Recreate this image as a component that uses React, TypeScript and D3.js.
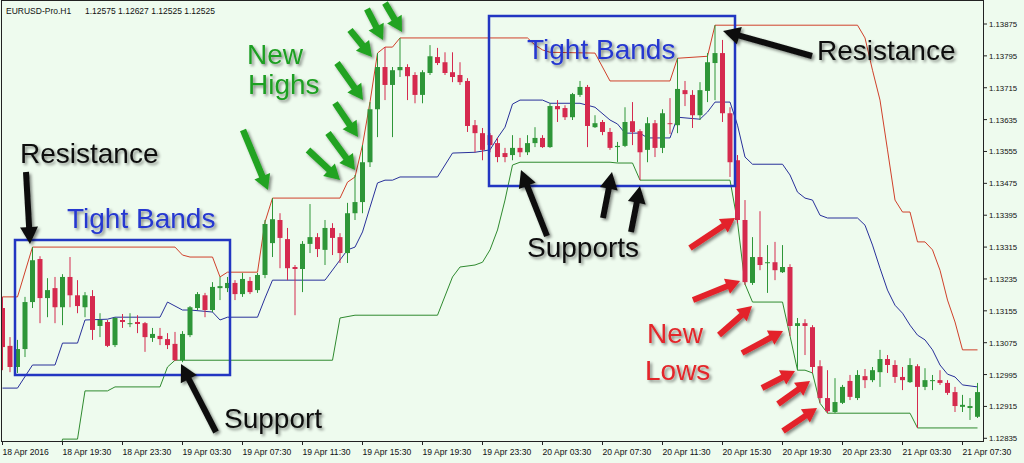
import React from 'react';
import * as d3 from 'd3';

// ---------- DATA ----------
// candles: [open, high, low, close]
const ohlc: [number, number, number, number][] = [
  [1.13162, 1.13190, 1.13006, 1.13064],
  [1.13067, 1.13089, 1.13001, 1.13014],
  [1.13014, 1.13082, 1.12999, 1.13059],
  [1.13059, 1.13190, 1.13039, 1.13177],
  [1.13177, 1.13315, 1.13162, 1.13282],
  [1.13285, 1.13292, 1.13124, 1.13187],
  [1.13187, 1.13237, 1.13139, 1.13207],
  [1.13212, 1.13240, 1.13124, 1.13164],
  [1.13164, 1.13247, 1.13119, 1.13240],
  [1.13240, 1.13290, 1.13164, 1.13194],
  [1.13194, 1.13232, 1.13149, 1.13167],
  [1.13164, 1.13202, 1.13139, 1.13194],
  [1.13192, 1.13207, 1.13082, 1.13107],
  [1.13117, 1.13149, 1.13089, 1.13132],
  [1.13127, 1.13132, 1.13064, 1.13067],
  [1.13069, 1.13139, 1.13064, 1.13137],
  [1.13132, 1.13147, 1.13112, 1.13127],
  [1.13122, 1.13149, 1.13114, 1.13124],
  [1.13127, 1.13144, 1.13099, 1.13122],
  [1.13124, 1.13127, 1.13052, 1.13089],
  [1.13087, 1.13112, 1.13077, 1.13097],
  [1.13092, 1.13112, 1.13069, 1.13084],
  [1.13084, 1.13099, 1.13059, 1.13069],
  [1.13072, 1.13102, 1.13029, 1.13031],
  [1.13031, 1.13104, 1.13026, 1.13097],
  [1.13094, 1.13167, 1.13089, 1.13164],
  [1.13162, 1.13202, 1.13157, 1.13197],
  [1.13194, 1.13200, 1.13139, 1.13157],
  [1.13157, 1.13227, 1.13152, 1.13215],
  [1.13212, 1.13240, 1.13182, 1.13217],
  [1.13212, 1.13240, 1.13202, 1.13225],
  [1.13225, 1.13232, 1.13182, 1.13197],
  [1.13197, 1.13250, 1.13190, 1.13235],
  [1.13230, 1.13240, 1.13197, 1.13202],
  [1.13207, 1.13250, 1.13200, 1.13245],
  [1.13245, 1.13383, 1.13237, 1.13373],
  [1.13325, 1.13438, 1.13290, 1.13385],
  [1.13383, 1.13400, 1.13262, 1.13338],
  [1.13335, 1.13363, 1.13232, 1.13262],
  [1.13265, 1.13270, 1.13144, 1.13260],
  [1.13260, 1.13330, 1.13202, 1.13323],
  [1.13323, 1.13423, 1.13300, 1.13340],
  [1.13340, 1.13350, 1.13290, 1.13310],
  [1.13308, 1.13383, 1.13270, 1.13363],
  [1.13363, 1.13375, 1.13295, 1.13338],
  [1.13340, 1.13350, 1.13275, 1.13300],
  [1.13300, 1.13426, 1.13275, 1.13400],
  [1.13400, 1.13496, 1.13383, 1.13428],
  [1.13428, 1.13571, 1.13400, 1.13528],
  [1.13528, 1.13679, 1.13516, 1.13661],
  [1.13661, 1.13802, 1.13591, 1.13767],
  [1.13767, 1.13817, 1.13684, 1.13722],
  [1.13722, 1.13767, 1.13591, 1.13759],
  [1.13759, 1.13840, 1.13742, 1.13767],
  [1.13767, 1.13774, 1.13684, 1.13744],
  [1.13747, 1.13754, 1.13676, 1.13697],
  [1.13697, 1.13759, 1.13676, 1.13754],
  [1.13752, 1.13822, 1.13747, 1.13794],
  [1.13792, 1.13815, 1.13772, 1.13777],
  [1.13779, 1.13804, 1.13747, 1.13752],
  [1.13754, 1.13804, 1.13729, 1.13742],
  [1.13747, 1.13779, 1.13722, 1.13729],
  [1.13732, 1.13739, 1.13604, 1.13619],
  [1.13621, 1.13634, 1.13553, 1.13601],
  [1.13601, 1.13614, 1.13533, 1.13559],
  [1.13596, 1.13601, 1.13553, 1.13571],
  [1.13576, 1.13589, 1.13528, 1.13541],
  [1.13551, 1.13564, 1.13528, 1.13541],
  [1.13546, 1.13596, 1.13533, 1.13564],
  [1.13564, 1.13589, 1.13541, 1.13553],
  [1.13553, 1.13596, 1.13546, 1.13576],
  [1.13576, 1.13616, 1.13566, 1.13589],
  [1.13589, 1.13596, 1.13564, 1.13566],
  [1.13566, 1.13676, 1.13564, 1.13669],
  [1.13669, 1.13684, 1.13629, 1.13661],
  [1.13664, 1.13671, 1.13634, 1.13641],
  [1.13641, 1.13702, 1.13634, 1.13699],
  [1.13697, 1.13732, 1.13692, 1.13717],
  [1.13717, 1.13722, 1.13566, 1.13619],
  [1.13616, 1.13646, 1.13614, 1.13626],
  [1.13629, 1.13634, 1.13596, 1.13604],
  [1.13604, 1.13614, 1.13559, 1.13564],
  [1.13566, 1.13579, 1.13528, 1.13569],
  [1.13569, 1.13666, 1.13566, 1.13629],
  [1.13631, 1.13679, 1.13571, 1.13604],
  [1.13606, 1.13611, 1.13483, 1.13553],
  [1.13559, 1.13641, 1.13528, 1.13626],
  [1.13626, 1.13634, 1.13541, 1.13564],
  [1.13564, 1.13661, 1.13551, 1.13651],
  [1.13626, 1.13689, 1.13599, 1.13624],
  [1.13621, 1.13789, 1.13601, 1.13712],
  [1.13709, 1.13732, 1.13669, 1.13699],
  [1.13697, 1.13709, 1.13614, 1.13646],
  [1.13646, 1.13729, 1.13634, 1.13709],
  [1.13707, 1.13802, 1.13679, 1.13779],
  [1.13777, 1.13872, 1.13684, 1.13802],
  [1.13802, 1.13835, 1.13629, 1.13651],
  [1.13651, 1.13666, 1.13491, 1.13528],
  [1.13533, 1.13546, 1.13375, 1.13383],
  [1.13383, 1.13433, 1.13220, 1.13227],
  [1.13225, 1.13340, 1.13220, 1.13290],
  [1.13290, 1.13405, 1.13257, 1.13270],
  [1.13275, 1.13320, 1.13200, 1.13277],
  [1.13277, 1.13328, 1.13232, 1.13257],
  [1.13252, 1.13320, 1.13250, 1.13265],
  [1.13265, 1.13272, 1.13092, 1.13117],
  [1.13117, 1.13137, 1.13006, 1.13124],
  [1.13124, 1.13134, 1.13044, 1.13117],
  [1.13114, 1.13119, 1.12999, 1.13014],
  [1.13016, 1.13031, 1.12924, 1.12936],
  [1.12936, 1.13006, 1.12898, 1.12903],
  [1.12901, 1.12986, 1.12898, 1.12926],
  [1.12924, 1.12969, 1.12921, 1.12964],
  [1.12979, 1.12994, 1.12931, 1.12939],
  [1.12936, 1.13006, 1.12931, 1.12994],
  [1.12991, 1.13009, 1.12961, 1.12981],
  [1.12981, 1.13014, 1.12976, 1.13006],
  [1.13001, 1.13057, 1.12964, 1.13034],
  [1.13034, 1.13044, 1.12999, 1.13019],
  [1.13019, 1.13031, 1.12974, 1.12989],
  [1.12989, 1.13014, 1.12956, 1.12981],
  [1.12976, 1.13036, 1.12974, 1.13019],
  [1.13016, 1.13021, 1.12861, 1.12964],
  [1.12964, 1.13011, 1.12956, 1.12981],
  [1.12979, 1.12994, 1.12956, 1.12981],
  [1.12981, 1.13006, 1.12969, 1.12974],
  [1.12974, 1.12981, 1.12944, 1.12949],
  [1.12951, 1.12964, 1.12901, 1.12916],
  [1.12914, 1.12944, 1.12901, 1.12919],
  [1.12911, 1.12936, 1.12881, 1.12916],
  [1.12889, 1.12974, 1.12886, 1.12951],
];

// channel lines: [bar index, price]
const upperBand: [number, number][] = [
  [0, 1.13190], [2, 1.13190], [4, 1.13315], [23, 1.13315], [24, 1.13295], [25, 1.13290], [28, 1.13290],
  [29, 1.13240], [30, 1.13252], [34, 1.13252], [35, 1.13378], [36, 1.13438], [45, 1.13438], [46, 1.13478],
  [47, 1.13491], [48, 1.13571], [49, 1.13679], [50, 1.13802], [51, 1.13817], [52, 1.13817], [53, 1.13840],
  [70, 1.13840], [71, 1.13822], [72, 1.13810], [73, 1.13804], [79, 1.13802], [80, 1.13767], [81, 1.13732],
  [89, 1.13732], [90, 1.13789], [94, 1.13794], [95, 1.13872], [114, 1.13872], [115, 1.13840], [116, 1.13759],
  [117, 1.13684], [118, 1.13559], [119, 1.13433], [120, 1.13403], [121, 1.13403], [122, 1.13328], [123, 1.13328],
  [124, 1.13308], [125, 1.13257], [126, 1.13182], [127, 1.13127], [128, 1.13057], [130, 1.13057],
];
const middleBand: [number, number][] = [
  [0, 1.12961], [2, 1.12961], [4, 1.13019], [7, 1.13019], [8, 1.13074], [10, 1.13074], [11, 1.13132],
  [14, 1.13134], [15, 1.13139], [21, 1.13139], [22, 1.13177], [24, 1.13157], [25, 1.13157], [28, 1.13152],
  [29, 1.13132], [30, 1.13139], [34, 1.13139], [35, 1.13187], [36, 1.13232], [43, 1.13232], [46, 1.13308],
  [47, 1.13315], [48, 1.13353], [49, 1.13415], [50, 1.13476], [51, 1.13483], [52, 1.13483], [53, 1.13491],
  [58, 1.13491], [60, 1.13551], [63, 1.13553], [65, 1.13559], [66, 1.13589], [67, 1.13616], [68, 1.13674],
  [69, 1.13684], [72, 1.13684], [73, 1.13676], [77, 1.13676], [78, 1.13671], [79, 1.13666], [81, 1.13634],
  [82, 1.13624], [83, 1.13601], [85, 1.13601], [86, 1.13589], [89, 1.13589], [90, 1.13641], [93, 1.13636],
  [94, 1.13654], [95, 1.13679], [97, 1.13679], [98, 1.13621], [99, 1.13541], [100, 1.13523], [104, 1.13523],
  [105, 1.13496], [106, 1.13453], [107, 1.13438], [108, 1.13433], [109, 1.13395], [110, 1.13388], [114, 1.13388],
  [115, 1.13370], [116, 1.13320], [117, 1.13262], [118, 1.13207], [119, 1.13169], [120, 1.13149], [121, 1.13119],
  [122, 1.13094], [123, 1.13082], [124, 1.13057], [125, 1.13019], [126, 1.12996], [127, 1.12989], [128, 1.12969],
  [130, 1.12964],
];
const lowerBand: [number, number][] = [
  [0, 1.12733], [3, 1.12733], [4, 1.12723], [7, 1.12723], [8, 1.12833], [10, 1.12833], [11, 1.12954],
  [14, 1.12954], [15, 1.12964], [21, 1.12964], [22, 1.13014], [23, 1.13031], [44, 1.13031], [45, 1.13137],
  [47, 1.13144], [58, 1.13144], [60, 1.13240], [61, 1.13265], [63, 1.13270], [64, 1.13277], [65, 1.13308],
  [66, 1.13358], [67, 1.13433], [68, 1.13521], [69, 1.13528], [81, 1.13528], [82, 1.13526], [84, 1.13526],
  [85, 1.13483], [97, 1.13483], [98, 1.13378], [99, 1.13222], [100, 1.13177], [104, 1.13177], [105, 1.13092],
  [106, 1.13006], [107, 1.13006], [108, 1.12999], [109, 1.12923], [110, 1.12898], [121, 1.12898], [122, 1.12861],
  [130, 1.12861],
];

const priceTicks = [1.13875, 1.13795, 1.13715, 1.13635, 1.13555, 1.13475, 1.13395, 1.13315, 1.13235, 1.13155, 1.13075, 1.12995, 1.12915, 1.12835];
const timeLabels = [
  '18 Apr 2016', '18 Apr 19:30', '18 Apr 23:30', '19 Apr 03:30', '19 Apr 07:30', '19 Apr 11:30',
  '19 Apr 15:30', '19 Apr 19:30', '19 Apr 23:30', '20 Apr 03:30', '20 Apr 07:30', '20 Apr 11:30',
  '20 Apr 15:30', '20 Apr 19:30', '20 Apr 23:30', '21 Apr 03:30', '21 Apr 07:30',
];
const labelEvery = 8;
const titleSymbol = 'EURUSD-Pro.H1';
const titleValues = '1.12575 1.12627 1.12525 1.12525';

// ---------- LAYOUT / STYLE ----------
const W = 1024, H = 463;
const P = { left: 2, right: 983, top: 1, bottom: 441 };
const BG = '#eefbee';
const BULL = '#2e9638';
const BEAR = '#d52a4e';
const FONT = '"Liberation Sans", Arial, sans-serif';

type Arrow = { from: [number, number]; to: [number, number] };
const blackArrows: Arrow[] = [
  { from: [26, 172], to: [30, 244] },
  { from: [216, 432], to: [181, 364] },
  { from: [547, 236], to: [521, 170] },
  { from: [603, 218], to: [612, 172] },
  { from: [631, 232], to: [640, 186] },
  { from: [812, 56], to: [723, 31] },
];
const greenArrows: Arrow[] = [
  { from: [243, 130], to: [268, 190] },
  { from: [308, 150], to: [340, 180] },
  { from: [328, 133], to: [355, 170] },
  { from: [335, 103], to: [358, 137] },
  { from: [337, 63], to: [363, 100] },
  { from: [350, 30], to: [372, 57] },
  { from: [367, 9], to: [383, 40] },
  { from: [385, 3], to: [402, 32] },
];
const redArrows: Arrow[] = [
  { from: [690, 248], to: [735, 218] },
  { from: [693, 300], to: [740, 281] },
  { from: [719, 335], to: [752, 306] },
  { from: [742, 353], to: [783, 331] },
  { from: [762, 388], to: [795, 371] },
  { from: [778, 404], to: [810, 381] },
  { from: [783, 431], to: [817, 408] },
];
const labels = [
  { text: 'Resistance', x: 20, y: 163, color: '#111' },
  { text: 'Resistance', x: 817, y: 60, color: '#111' },
  { text: 'Tight Bands', x: 67, y: 228, color: '#2638d0' },
  { text: 'Tight Bands', x: 527, y: 59, color: '#2638d0' },
  { text: 'New', x: 247, y: 64, color: '#1f9f22' },
  { text: 'Highs', x: 248, y: 94, color: '#1f9f22' },
  { text: 'New', x: 647, y: 343, color: '#e3262b' },
  { text: 'Lows', x: 645, y: 380, color: '#e3262b' },
  { text: 'Support', x: 224, y: 428, color: '#111' },
  { text: 'Supports', x: 527, y: 257, color: '#111' },
];
const boxes = [
  { x0: 15, y0: 240, x1: 230, y1: 375 },
  { x0: 489, y0: 16, x1: 735, y1: 186 },
];

function arrowPath(a: Arrow, s: number, h: number, L: number) {
  const [x1, y1] = a.from, [x2, y2] = a.to;
  const dx = x2 - x1, dy = y2 - y1, len = Math.hypot(dx, dy);
  const ux = dx / len, uy = dy / len, px = -uy, py = ux;
  const bx = x2 - ux * L, by = y2 - uy * L;
  const pts = [
    [x1 + px * s, y1 + py * s], [bx + px * s, by + py * s], [bx + px * h, by + py * h], [x2, y2],
    [bx - px * h, by - py * h], [bx - px * s, by - py * s], [x1 - px * s, y1 - py * s],
  ];
  return 'M' + pts.map(p => p[0].toFixed(1) + ',' + p[1].toFixed(1)).join('L') + 'Z';
}

export default function App() {
  const x = d3.scaleLinear().domain([0, 128]).range([2.5, 962.5]);
  const y = d3.scaleLinear().domain([1.12835, 1.13875]).range([438.3, 24]);
  const line = d3.line<[number, number]>().x(d => x(d[0])).y(d => y(d[1]));
  const bw = 5;

  return (
    <svg width={W} height={H} style={{ position: 'absolute', left: 0, top: 0, display: 'block' }} fontFamily={FONT}>
      <defs>
        <clipPath id="plot"><rect x={P.left} y={P.top} width={P.right - P.left} height={P.bottom - P.top} /></clipPath>
        <filter id="sh" x="-30%" y="-30%" width="160%" height="160%">
          <feDropShadow dx="2" dy="2" stdDeviation="1.6" floodColor="#000" floodOpacity="0.45" />
        </filter>
      </defs>
      <rect x={0} y={0} width={W} height={H} fill={BG} />
      {/* frame */}
      <rect x={P.left - 0.5} y={P.top - 0.5} width={P.right - P.left + 1} height={P.bottom - P.top + 1} fill="none" stroke="#222" strokeWidth={1} />

      <g clipPath="url(#plot)">
        {/* bands */}
        <path d={line(lowerBand) || ''} fill="none" stroke="#2f8a2f" strokeWidth={1} />
        <path d={line(middleBand) || ''} fill="none" stroke="#28309a" strokeWidth={1} />
        <path d={line(upperBand) || ''} fill="none" stroke="#d0402a" strokeWidth={1} />
        {/* candles */}
        {ohlc.map((c, i) => {
          const [o, h, l, cl] = c;
          const col = cl >= o ? BULL : BEAR;
          const cx = x(i);
          const top = y(Math.max(o, cl)), bot = y(Math.min(o, cl));
          return (
            <g key={i}>
              <line x1={cx} x2={cx} y1={y(h)} y2={y(l)} stroke={col} strokeWidth={1} />
              <rect x={cx - bw / 2} y={top} width={bw} height={Math.max(1, bot - top)} fill={col} />
            </g>
          );
        })}
      </g>

      {/* title */}
      <text x={6} y={14} fontSize={8.5} fill="#111">{titleSymbol}</text>
      <text x={85} y={14} fontSize={8.5} fill="#111">{titleValues}</text>

      {/* price axis */}
      {priceTicks.map((t, i) => (
        <g key={i}>
          <line x1={P.right} x2={P.right + 4} y1={y(t)} y2={y(t)} stroke="#222" />
          <text x={P.right + 6} y={y(t) + 3} fontSize={7.8} fill="#111">{t.toFixed(5)}</text>
        </g>
      ))}
      {/* time axis */}
      {timeLabels.map((t, k) => {
        const tx = x(k * labelEvery);
        return (
          <g key={k}>
            <line x1={tx} x2={tx} y1={P.bottom} y2={P.bottom + 4} stroke="#222" />
            <text x={tx} y={455} fontSize={8.6} fill="#111">{t}</text>
          </g>
        );
      })}

      {/* annotations */}
      {boxes.map((b, i) => (
        <rect key={i} x={b.x0} y={b.y0} width={b.x1 - b.x0} height={b.y1 - b.y0} fill="none" stroke="#2236c2" strokeWidth={2.5} />
      ))}
      <g filter="url(#sh)">
        {blackArrows.map((a, i) => <path key={'b' + i} d={arrowPath(a, 3, 9, 17)} fill="#111" />)}
        {greenArrows.map((a, i) => <path key={'g' + i} d={arrowPath(a, 3.3, 8.5, 15)} fill="#22a322" />)}
        {redArrows.map((a, i) => <path key={'r' + i} d={arrowPath(a, 3, 8, 14)} fill="#e3222a" />)}
        {labels.map((l, i) => (
          <text key={'t' + i} x={l.x} y={l.y} fontSize={28} fill={l.color}>{l.text}</text>
        ))}
      </g>
    </svg>
  );
}
